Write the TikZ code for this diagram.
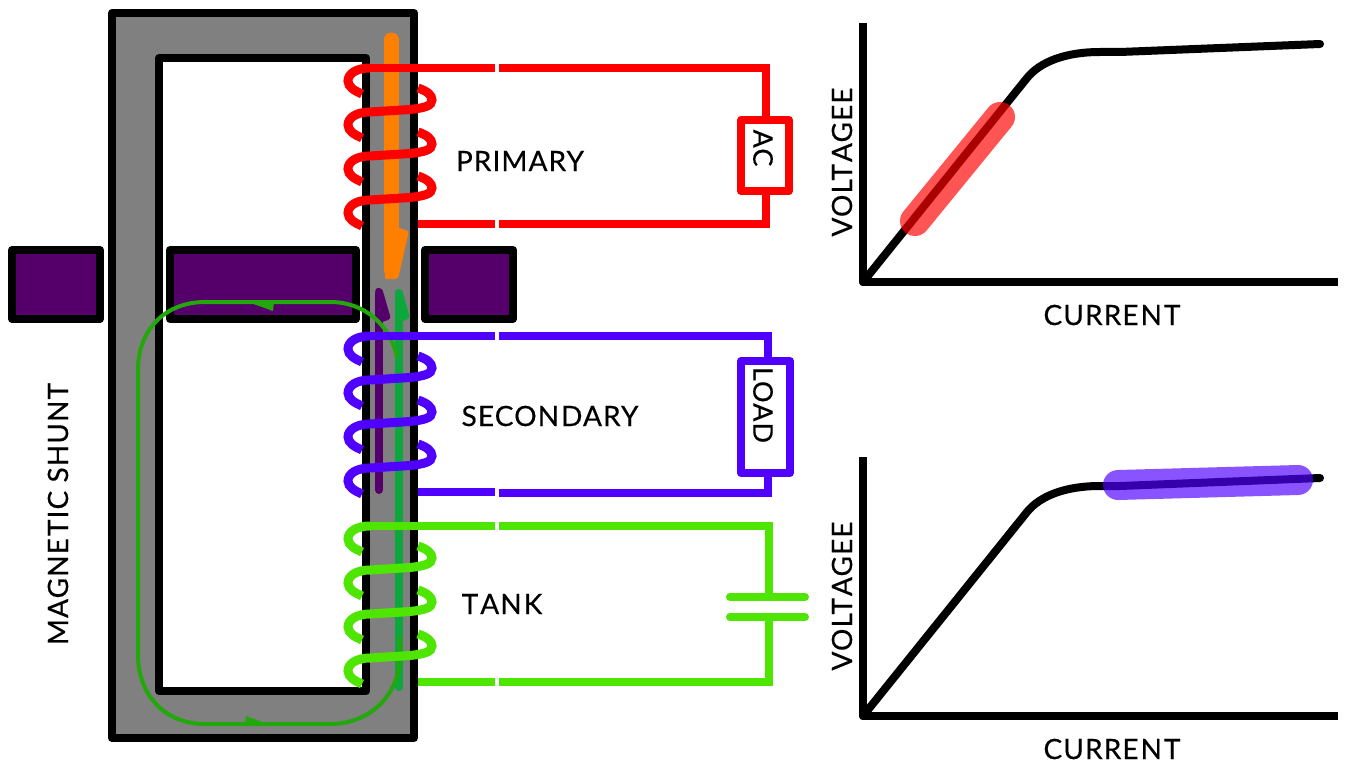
\documentclass[tikz,border=0pt]{standalone}
\usepackage{fontspec}
\setmainfont{Lato}[LetterSpace=4,FakeBold=0.35]
\definecolor{corefill}{HTML}{808080}
\definecolor{shuntfill}{HTML}{55006A}
\definecolor{wirered}{HTML}{FF0000}
\definecolor{wireblue}{HTML}{5000FF}
\definecolor{wiregreen}{HTML}{4EE600}
\definecolor{fluxorange}{HTML}{FF7F00}
\definecolor{fluxgreen}{HTML}{0CA83C}
\definecolor{loopgreen}{HTML}{22A80A}
\tikzset{
	core/.style={draw=black,line width=8pt,line join=round},
	shunt/.style={core,fill=shuntfill},
	wire/.style={line width=8pt,line join=miter},
	lobe/.style={line width=9pt},
	plate/.style={line width=8pt,line cap=round},
	axisline/.style={line width=8pt,line join=round},
	curveline/.style={line width=8pt,line cap=round,line join=round},
	band/.style={line width=30pt,line cap=round,opacity=.67},
	label/.style={font=\fontsize{28}{32}\selectfont,inner sep=0pt},
	boxlabel/.style={font=\fontsize{27}{30}\selectfont,inner sep=0pt,rotate=-90},
	loadbox/.style={draw,fill=white,line width=8pt,line join=round,inner sep=0pt},
}
\newcommand{\coil}[2]{
	\begin{scope}[shift={(0,#1)},#2]
	\foreach \i in {0,1,2,3} {\draw[lobe] (370,{68+\i*44}) .. controls (356,{68+\i*44}) and (348,{74+\i*44}) .. (348,{81+\i*44})
		.. controls (348,{87+\i*44}) and (355,{91+\i*44}) .. (362,{94+\i*44});}
	\foreach \i in {0,1,2} {\draw[lobe] (418,{88+\i*44}) .. controls (427,{91+\i*44}) and (432,{95+\i*44}) .. (432,{100+\i*44})
		.. controls (432,{106+\i*44}) and (424,{108+\i*44}) .. (410,{109.5+\i*44}) -- (370,{112+\i*44});}
	\draw[wire] (365,68) -- (495,68);
	\draw[wire] (418,224) -- (495,224);
	\end{scope}
}
\begin{document}
\begin{tikzpicture}[x=1pt,y=-1pt]
	\useasboundingbox (0,0) rectangle (1351,768);
	\fill[white] (0,0) rectangle (1351,768);

	\draw[core,fill=corefill] (112,13) rectangle (414,738);
	\draw[core,fill=white] (159,58) rectangle (366,691);
	\draw[shunt] (12,250) rectangle (100,319);
	\draw[shunt] (170,250) rectangle (356,319);
	\draw[shunt] (425,250) rectangle (513,319);

	\draw[line width=15pt,line cap=round,fluxorange] (391,40) -- (391,270);
	\fill[fluxorange,rounded corners=3pt] (396,227) -- (409,231) -- (398,279) -- (384,279) -- cycle;
	\draw[line width=8pt,line cap=round,shuntfill] (379,293) -- (379,490);
	\fill[shuntfill,rounded corners=3pt] (375,288) -- (382,288) -- (391,319) -- (379,323) -- cycle;
	\draw[line width=8pt,line cap=round,fluxgreen] (399,293) -- (399,687);
	\fill[fluxgreen,rounded corners=2pt] (395,290) -- (402,290) -- (410,318) -- (399,323) -- cycle;

	\draw[line width=4pt,loopgreen] (397,357) .. controls (390,325) and (365,302) .. (330,302) -- (205,302)
		.. controls (165,302) and (138,330) .. (138,370) -- (138,655)
		.. controls (138,695) and (165,724) .. (205,724) -- (330,724)
		.. controls (370,724) and (400,695) .. (400,655) -- (400,638);
	\fill[loopgreen] (248,302) -- (274,302) -- (273,311) -- cycle;
	\fill[loopgreen] (268,724) -- (245,724) -- (246,716) -- cycle;

	\coil{0}{wirered}
	\coil{268}{wireblue}
	\coil{458}{wiregreen}

	\node[loadbox,draw=wirered,minimum width=48pt,minimum height=71pt] (acbox) at (765,155.5) {};
	\node[loadbox,draw=wireblue,minimum width=49pt,minimum height=112pt] (loadbox) at (765.5,417) {};
	\node[boxlabel] (ac) at (763,148) {AC};
	\node[boxlabel] (load) at (763,405) {LOAD};
	\coordinate (acin) at (766,68);
	\coordinate (acout) at (766,224);
	\coordinate (loadin) at (768,336);
	\coordinate (loadout) at (768,493);
	\coordinate (tankin) at (769,526);
	\coordinate (tankout) at (769,682);
	\coordinate (plate1) at (769,597);
	\coordinate (plate2) at (769,617);
	\draw[wire,wirered] (499,68) -- (acin) -- (acin |- acbox.north);
	\draw[wire,wirered] (499,224) -- (acout) -- (acout |- acbox.south);
	\draw[wire,wireblue] (499,336) -- (loadin) -- (loadin |- loadbox.north);
	\draw[wire,wireblue] (499,493) -- (loadout) -- (loadout |- loadbox.south);
	\draw[wire,wiregreen] (499,526) -- (tankin) -- (plate1);
	\draw[wire,wiregreen] (499,682) -- (tankout) -- (plate2);
	\draw[plate,wiregreen] (730,597) -- (805,597);
	\draw[plate,wiregreen] (730,617) -- (805,617);

	\node[label] (primary) at (520,161) {P\kern1pt RIMARY};
	\node[label] (secondary) at (550,416) {SECON\kern2pt DARY};
	\node[label] (tank) at (502,604) {T\kern2pt AN\kern2pt K};
	\node[label,rotate=90] (shunt) at (58,514) {MAGNE\kern2pt TIC SHUNT};

	\foreach \j in {0,434} {
		\draw[axisline] (863,{23+\j}) -- (863,{282+\j}) -- (1338,{282+\j});
		\draw[curveline] (863,{282+\j}) -- (1027,{78+\j}) .. controls (1040,{62+\j}) and (1065,{52+\j}) .. (1100,{52+\j})
			-- (1120,{52+\j}) -- (1320,{44+\j});
		\node[label] (current\j) at (1112,{315+\j}) {CURRE\kern2pt N\kern2pt T};
		\node[label,rotate=90] (voltage\j) at (842,{162+\j}) {VOLT\kern2pt AGEE};
	}
	\draw[band,wirered] (915,221) -- (1000,117);
	\draw[band,wireblue] (1118,485) -- (1298,480);
	\end{tikzpicture}
\end{document}
